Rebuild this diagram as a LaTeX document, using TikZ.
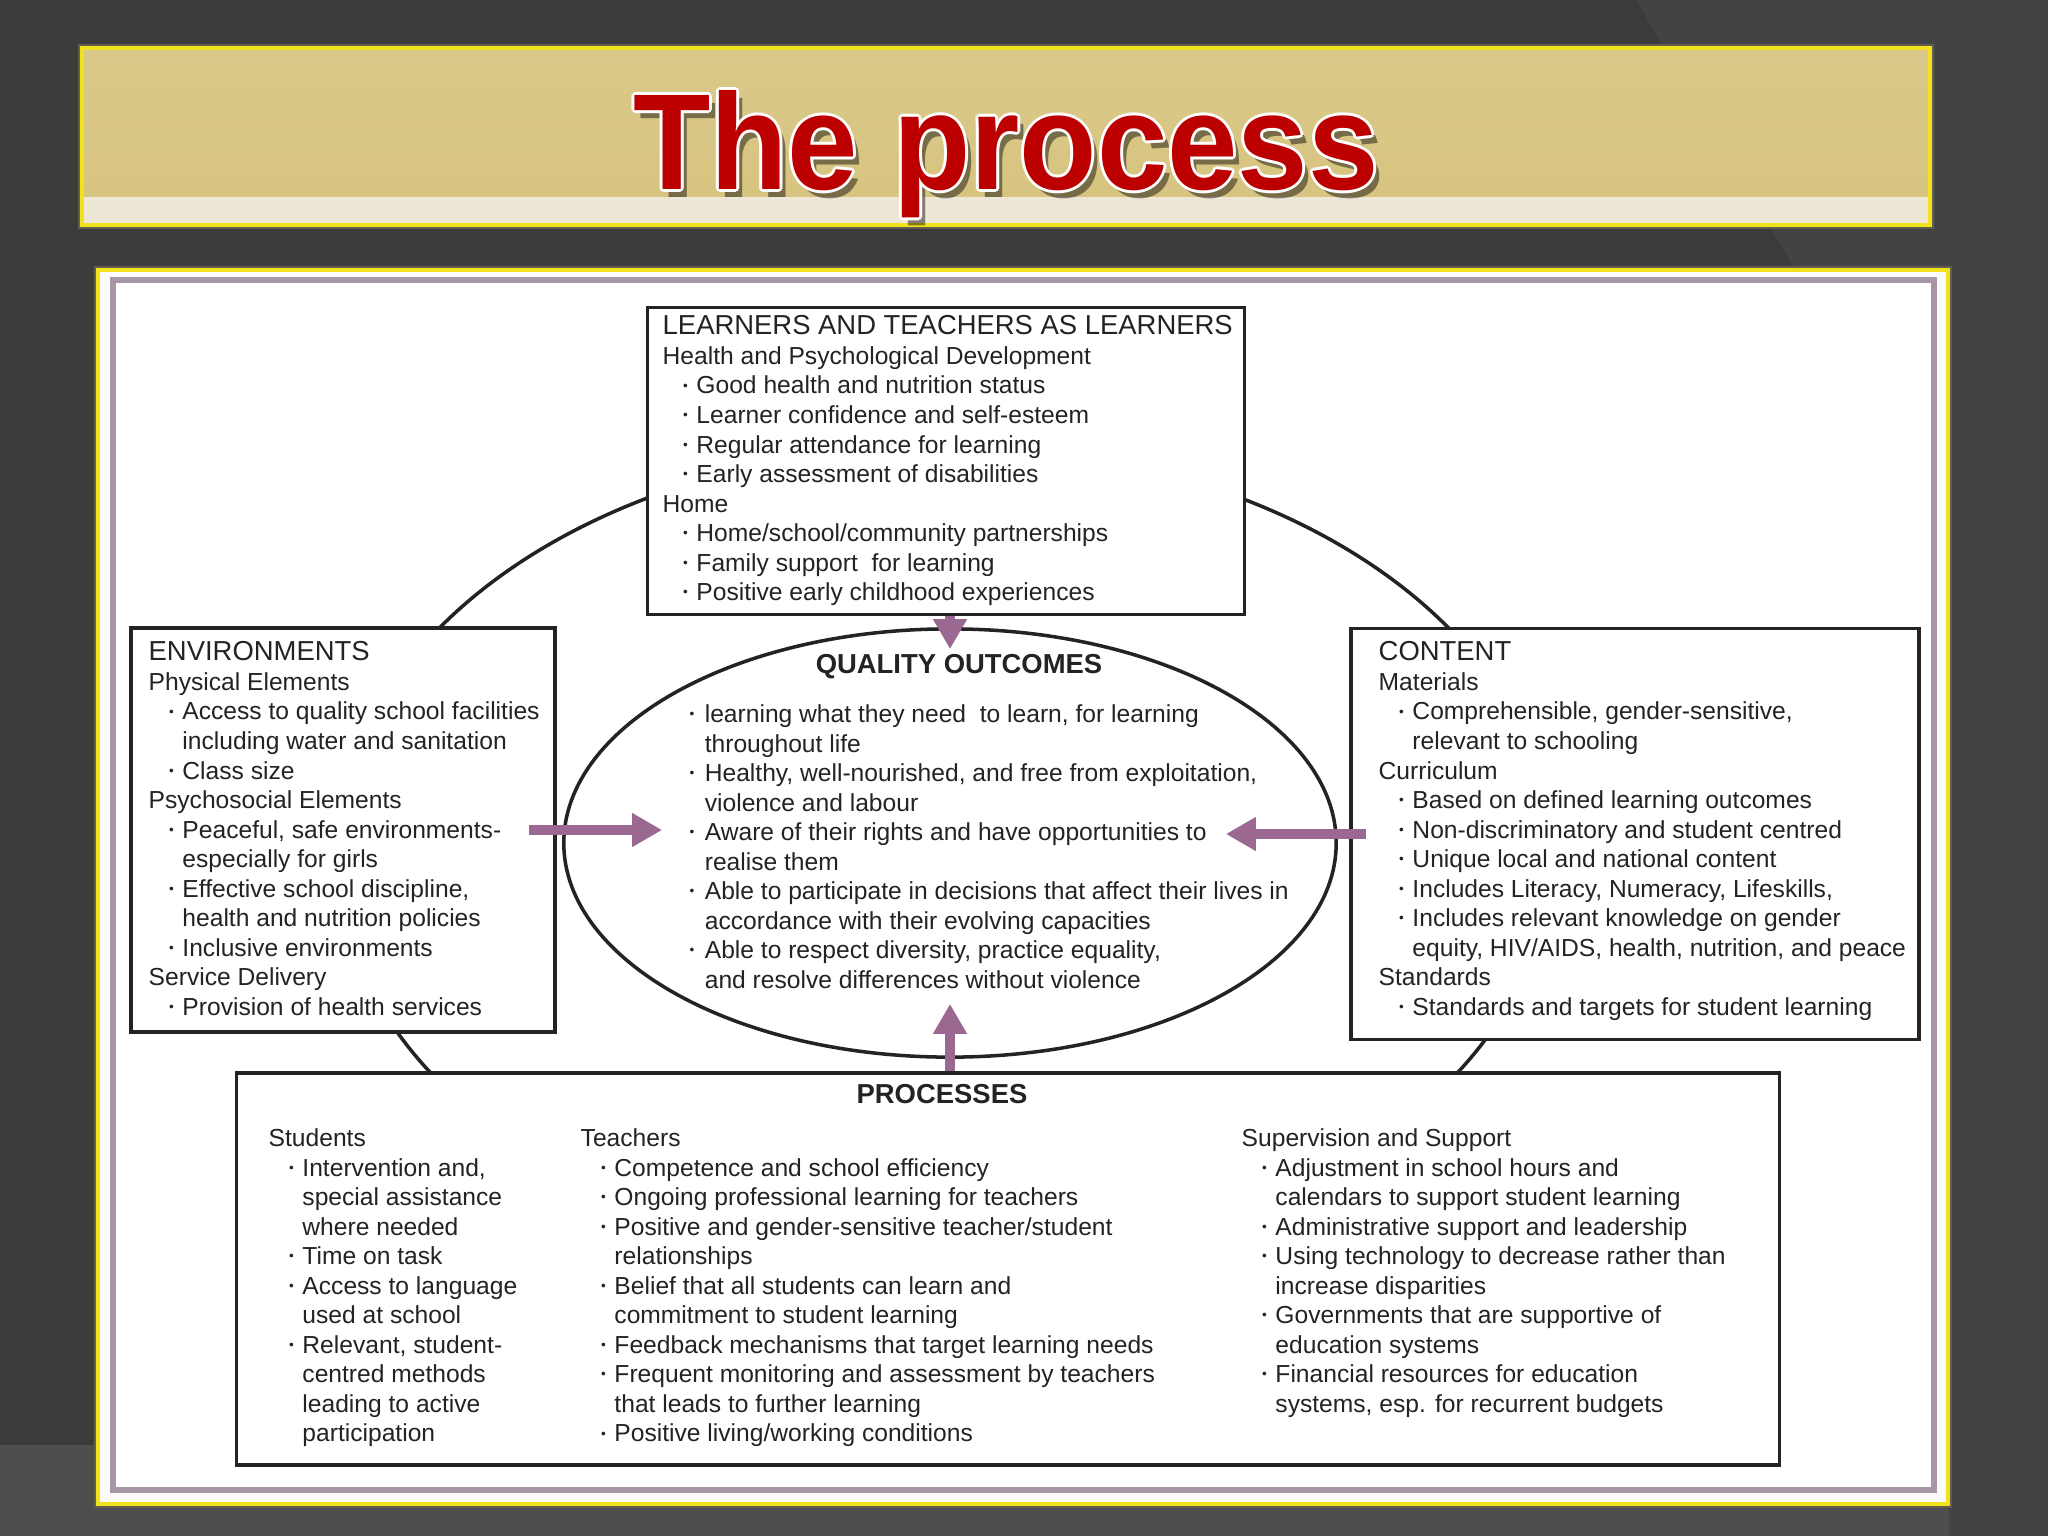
\documentclass[tikz,border=0pt]{standalone}
\usepackage{fontspec}
\setmainfont{Liberation Sans}
\usepackage{tikz}
\usetikzlibrary{arrows.meta,shapes.geometric}
\usepackage{xcolor}

\definecolor{slate}{HTML}{3B3B3B}
\definecolor{slatelt}{HTML}{434343}
\definecolor{slatebot}{HTML}{4E4E4E}
\definecolor{khaki}{HTML}{D7C480}
\definecolor{cream}{HTML}{EFE7D6}
\definecolor{lemon}{HTML}{F2E21E}
\definecolor{lilac}{HTML}{A696A6}
\definecolor{mauve}{HTML}{9A6890}
\definecolor{titlered}{HTML}{BC0000}
\definecolor{ink}{HTML}{232323}

\newlength{\bulind}\setlength{\bulind}{5.8pt}
\newlength{\bulwd}\setlength{\bulwd}{3.8pt}
\newcommand{\itm}[1]{\hspace*{\bulind}\makebox[\bulwd][l]{\raisebox{0.3ex}{\scalebox{0.55}{\textbullet}}}#1}
\newcommand{\cnt}[1]{\hspace*{\bulind}\hspace*{\bulwd}#1}
\newcommand{\hd}[1]{{\fontsize{7.8}{8.4}\selectfont #1}}

\begin{document}
\begin{tikzpicture}[x=0.01cm,y=-0.01cm,
  box/.style={draw=ink,line width=1pt,fill=white,inner sep=0pt},
  txt/.style={anchor=north west,inner sep=0pt,align=left,text=ink,font=\fontsize{7}{8.4}\selectfont},
  bhd/.style={anchor=base,inner sep=0pt,text=ink,font=\fontsize{7.8}{8.4}\selectfont\bfseries},
  flow/.style={draw=mauve,line width=2.6pt,-{Triangle[length=0.3cm,width=0.32cm]}},
  ttl/.style={anchor=base,inner sep=0pt,font=\fontsize{36}{40}\selectfont\bfseries}]
\useasboundingbox (0,0) rectangle (2048,1536);
\fill[slate] (0,0) rectangle (2048,1536);
\fill[slatelt] (1636,0) -- (2048,0) -- (2048,1536) -- (1949,1536) -- (1949,530) -- cycle;
\fill[slatebot] (0,1445) rectangle (1949,1536);

\draw[khaki!25!slate,line width=2.5pt] (82,48) rectangle (1930,225);
\shade[top color=khaki!92!white,bottom color=khaki] (82,48) rectangle (1930,197);
\fill[cream] (82,197) rectangle (1930,225);
\draw[lemon,line width=1.2pt] (82,48) rectangle (1930,225);

\node[ttl,black,opacity=0.45] (shadow) at (1012,197) {\scalebox{1}[1.08]{The process}};
\foreach \dx/\dy in {-3/0,3/0,0/-3,0/3,-2/-2,2/2,-2/2,2/-2}{
  \node[ttl,white] (halo) at (1006+\dx,189+\dy) {\scalebox{1}[1.08]{The process}};
}
\node[ttl,titlered] (title) at (1006,189) {\scalebox{1}[1.08]{The process}};

\draw[khaki!25!slate,line width=2.5pt] (98,270) rectangle (1948,1504);
\draw[lemon,line width=1.2pt,fill=white!97!lilac] (98,270) rectangle (1948,1504);
\draw[lilac,line width=1.6pt,fill=white] (113,280) rectangle (1934,1490);

\draw[ink,line width=1pt] (944,855) ellipse [x radius=6.06cm,y radius=4.09cm];

\node[box,minimum width=5.97cm,minimum height=3.07cm] (learn) at (946,461) {};
\node[box,minimum width=4.24cm,minimum height=4.04cm] (env) at (343,830) {};
\node[box,minimum width=5.68cm,minimum height=4.11cm] (cont) at (1635,834) {};
\node[box,minimum width=15.42cm,minimum height=3.92cm] (proc) at (1008,1269) {};
\node[box,ellipse,minimum width=7.72cm,minimum height=4.28cm] (qo) at (950,843) {};

\node[txt] (learntxt) at (662,315) {\hd{LEARNERS AND TEACHERS AS LEARNERS}\\
Health and Psychological Development\\
\itm{Good health and nutrition status}\\
\itm{Learner confidence and self-esteem}\\
\itm{Regular attendance for learning}\\
\itm{Early assessment of disabilities}\\
Home\\
\itm{Home/school/community partnerships}\\
\itm{Family support\ \ for learning}\\
\itm{Positive early childhood experiences}};

\node[txt] (envtxt) at (148,641) {\hd{ENVIRONMENTS}\\
Physical Elements\\
\itm{Access to quality school facilities}\\
\cnt{including water and sanitation}\\
\itm{Class size}\\
Psychosocial Elements\\
\itm{Peaceful, safe environments-}\\
\cnt{especially for girls}\\
\itm{Effective school discipline,}\\
\cnt{health and nutrition policies}\\
\itm{Inclusive environments}\\
Service Delivery\\
\itm{Provision of health services}};

\node[txt] (conttxt) at (1378,641) {\hd{CONTENT}\\
Materials\\
\itm{Comprehensible, gender-sensitive,}\\
\cnt{relevant to schooling}\\
Curriculum\\
\itm{Based on defined learning outcomes}\\
\itm{Non-discriminatory and student centred}\\
\itm{Unique local and national content}\\
\itm{Includes Literacy, Numeracy, Lifeskills,}\\
\itm{Includes relevant knowledge on gender}\\
\cnt{equity, HIV/AIDS, health, nutrition, and peace}\\
Standards\\
\itm{Standards and targets for student learning}};

\node[bhd] (qohd) at (959,673) {QUALITY OUTCOMES};
\node[txt,execute at begin node={\setlength{\bulind}{0pt}\setlength{\bulwd}{4.3pt}}] (qotxt) at (689,704) {%
\itm{learning what they need\ \ to learn, for learning}\\
\cnt{throughout life}\\
\itm{Healthy, well-nourished, and free from exploitation,}\\
\cnt{violence and labour}\\
\itm{Aware of their rights and have opportunities to}\\
\cnt{realise them}\\
\itm{Able to participate in decisions that affect their lives in}\\
\cnt{accordance with their evolving capacities}\\
\itm{Able to respect diversity, practice equality,}\\
\cnt{and resolve differences without violence}};

\node[bhd] (prochd) at (942,1103) {PROCESSES};
\node[txt] (stud) at (268,1128) {Students\\
\itm{Intervention and,}\\
\cnt{special assistance}\\
\cnt{where needed}\\
\itm{Time on task}\\
\itm{Access to language}\\
\cnt{used at school}\\
\itm{Relevant, student-}\\
\cnt{centred methods}\\
\cnt{leading to active}\\
\cnt{participation}};
\node[txt] (teach) at (580,1128) {Teachers\\
\itm{Competence and school efficiency}\\
\itm{Ongoing professional learning for teachers}\\
\itm{Positive and gender-sensitive teacher/student}\\
\cnt{relationships}\\
\itm{Belief that all students can learn and}\\
\cnt{commitment to student learning}\\
\itm{Feedback mechanisms that target learning needs}\\
\itm{Frequent monitoring and assessment by teachers}\\
\cnt{that leads to further learning}\\
\itm{Positive living/working conditions}};
\node[txt] (superv) at (1241,1128) {Supervision and Support\\
\itm{Adjustment in school hours and}\\
\cnt{calendars to support student learning}\\
\itm{Administrative support and leadership}\\
\itm{Using technology to decrease rather than}\\
\cnt{increase disparities}\\
\itm{Governments that are supportive of}\\
\cnt{education systems}\\
\itm{Financial resources for education}\\
\cnt{systems, esp. for recurrent budgets}};

\draw[flow] (qo.north |- learn.south) -- ([yshift=-0.22cm]qo.north);
\draw[flow] ([xshift=-0.28cm]env.east) -- ([xshift=1cm]qo.west |- env.east);
\draw[flow] ([xshift=0.17cm]cont.west) -- ([xshift=-1.12cm]qo.east |- cont.west);
\draw[flow] (qo.south |- proc.north) -- ([yshift=0.55cm]qo.south);
\end{tikzpicture}
\end{document}
